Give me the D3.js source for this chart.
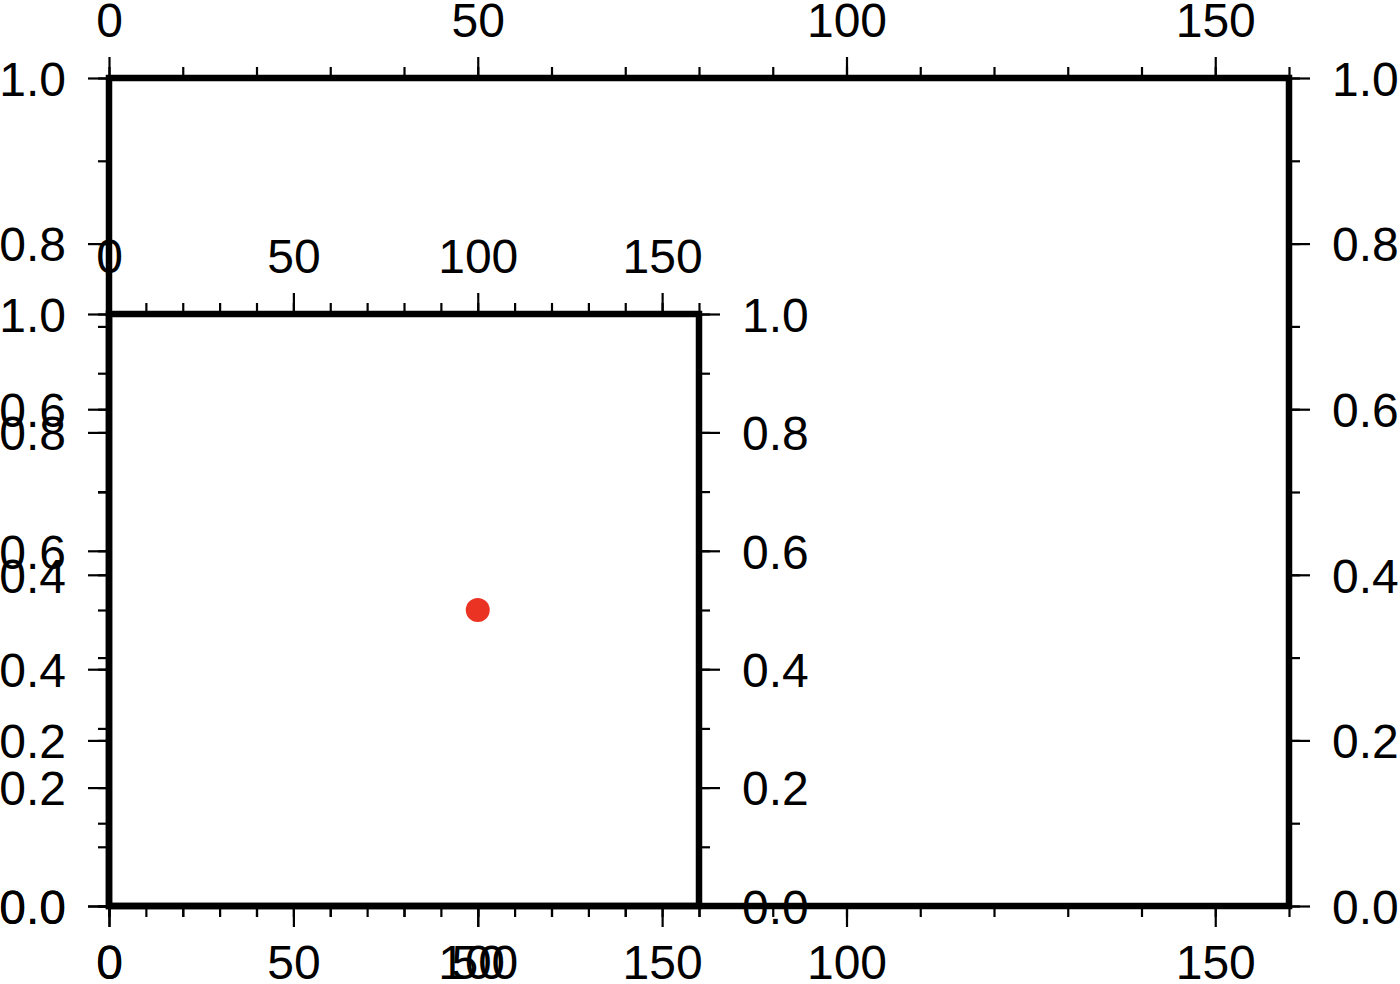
<!DOCTYPE html>
<html>
<head>
<meta charset="utf-8">
<script src="https://d3js.org/d3.v7.min.js"></script>
<style>
  body { margin: 0; background: #fff; }
  text { font-family: "Liberation Sans", Arial, Helvetica, sans-serif; }
</style>
</head>
<body>
<svg id="chart" width="1400" height="984"></svg>
<script>
// axis ranges, same for both frames
var xDomain = [0, 160];
var yDomain = [0, 1];
var xMajor = [0, 50, 100, 150];
var xMinor = [0, 10, 20, 30, 40, 50, 60, 70, 80, 90, 100, 110, 120, 130, 140, 150, 160];
var yMajor = [0, 0.2, 0.4, 0.6, 0.8, 1.0];
var yMinor = [0, 0.1, 0.2, 0.3, 0.4, 0.5, 0.6, 0.7, 0.8, 0.9, 1.0];
// the single point, plotted in the inset frame
var pointX = [100];
var pointY = [0.5];

var svg = d3.select("#chart");

// outer frame and inset frame boxes (pixels)
var frames = [
  {left: 109, top: 78, width: 1180, height: 828},
  {left: 109, top: 314, width: 590, height: 592}
];

var fmtY = d3.format(".1f");
var fontSize = 48;

function drawFrame(f) {
  var g = svg.append("g").attr("transform", "translate(" + f.left + "," + f.top + ")");
  var x = d3.scaleLinear().domain(xDomain).range([0, f.width]);
  var y = d3.scaleLinear().domain(yDomain).range([f.height, 0]);

  // minor ticks, all four sides
  g.append("g").call(d3.axisTop(x).tickValues(xMinor).tickSize(11).tickSizeOuter(0).tickFormat(""));
  g.append("g").attr("transform", "translate(0," + f.height + ")")
    .call(d3.axisBottom(x).tickValues(xMinor).tickSize(11).tickSizeOuter(0).tickFormat(""));
  g.append("g").call(d3.axisLeft(y).tickValues(yMinor).tickSize(11).tickSizeOuter(0).tickFormat(""));
  g.append("g").attr("transform", "translate(" + f.width + ",0)")
    .call(d3.axisRight(y).tickValues(yMinor).tickSize(11).tickSizeOuter(0).tickFormat(""));

  // major ticks with labels
  var top = g.append("g").call(d3.axisTop(x).tickValues(xMajor).tickSize(21).tickSizeOuter(0).tickPadding(20).tickFormat(d3.format("d")));
  var bottom = g.append("g").attr("transform", "translate(0," + f.height + ")")
    .call(d3.axisBottom(x).tickValues(xMajor).tickSize(21).tickSizeOuter(0).tickPadding(18).tickFormat(d3.format("d")));
  var left = g.append("g").call(d3.axisLeft(y).tickValues(yMajor).tickSize(21).tickSizeOuter(0).tickPadding(22).tickFormat(fmtY));
  var right = g.append("g").attr("transform", "translate(" + f.width + ",0)")
    .call(d3.axisRight(y).tickValues(yMajor).tickSize(21).tickSizeOuter(0).tickPadding(22).tickFormat(fmtY));

  g.selectAll(".domain").remove();
  g.selectAll(".tick line").attr("stroke", "#000").attr("stroke-width", 2.2);
  g.selectAll(".tick text").attr("fill", "#000").style("font-size", fontSize + "px")
    .style("font-family", "'Liberation Sans', Arial, sans-serif");
  left.selectAll("text").attr("dy", "0.36em");
  right.selectAll("text").attr("dy", "0.36em");

  // frame
  g.append("rect").attr("x", 0).attr("y", 0).attr("width", f.width).attr("height", f.height)
    .attr("fill", "none").attr("stroke", "#000").attr("stroke-width", 6.5);

  return {g: g, x: x, y: y};
}

drawFrame(frames[0]);
var inset = drawFrame(frames[1]);

inset.g.selectAll("circle.pt").data(pointX).enter().append("circle")
  .attr("class", "pt")
  .attr("cx", function(d) { return inset.x(d); })
  .attr("cy", function(d, i) { return inset.y(pointY[i]); })
  .attr("r", 12)
  .attr("fill", "#ea3323");
</script>
</body>
</html>
